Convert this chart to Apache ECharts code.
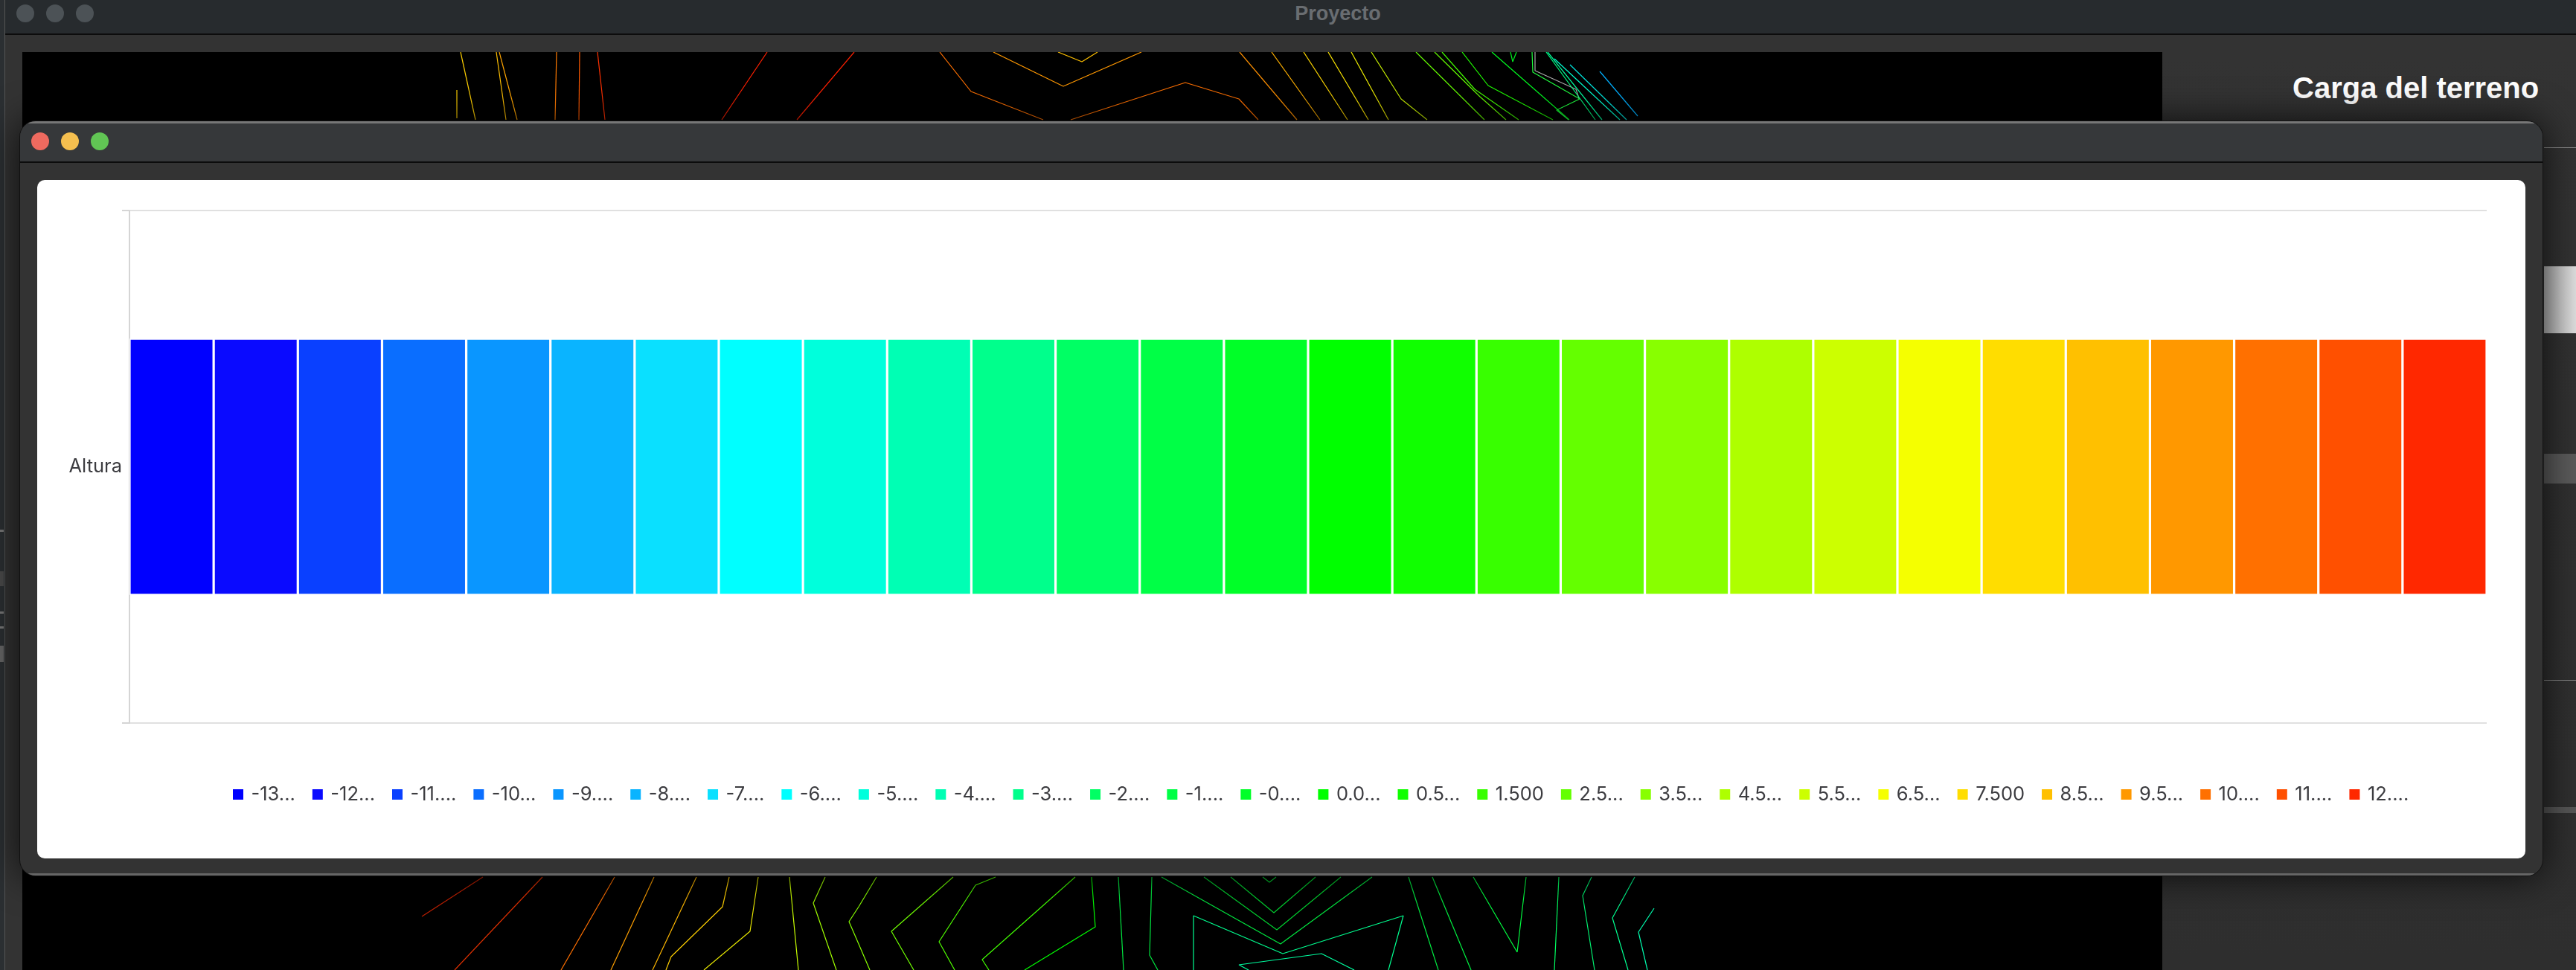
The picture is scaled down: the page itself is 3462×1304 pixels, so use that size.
<!DOCTYPE html>
<html>
<head>
<meta charset="utf-8">
<title>Carga del terreno</title>
<script src="https://cdn.jsdelivr.net/npm/echarts@6/dist/echarts.min.js"></script>
<style>
html, body { margin: 0; width: 3462px; height: 1304px; overflow: hidden; background: #2b2f32; }
div { position: absolute; box-sizing: border-box; }
.dot { width: 24px; height: 24px; border-radius: 50%; }
#mainWin { left: 6px; top: 0; width: 3456px; height: 1304px; background: #333; border-left: 1px solid #555; }
#mainBar { left: 0; top: 0; width: 100%; height: 47px; background: #272b2e; border-bottom: 2px solid #0c0c0c; }
#mainTitle { left: 1798px; top: 0; height: 37px; transform: translateX(-50%); color: #696d71; font: bold 27px/37px "Liberation Sans"; white-space: nowrap; }
#sidebar { left: 2906px; top: 70px; width: 556px; height: 1234px; background: linear-gradient(#333, #2e2e2e); }
#sideTitle { left: 3081px; top: 96px; color: #fff; font: bold 40px/44px "Liberation Sans"; white-space: nowrap; }
#contours { left: 30px; top: 70px; width: 2876px; height: 1234px; background: #000; }
#popup { left: 26px; top: 162px; width: 3392px; height: 1016px; background: #333; border-radius: 22px; border: 1px solid #111; box-shadow: 0 0 50px rgba(0,0,0,.75); overflow: hidden; }
#popupBar { left: 0; top: 0; width: 100%; height: 56px; background: #36383a; border-top: 3px solid #777; border-bottom: 2px solid #0c0c0c; }
#popupEdge { left: 0; bottom: 0; width: 100%; height: 3px; background: #666; }
#panel { left: 50px; top: 242px; width: 3344px; height: 912px; background: #fff; border-radius: 10px; overflow: hidden; }
#chart { left: 0; top: 0; width: 3344px; height: 912px; }
</style>
</head>
<body>
<div id="mainWin"><div id="mainBar"></div></div>
<div id="mainTitle">Proyecto</div>
<div class="dot" style="left:22px;top:6px;background:#4c5256"></div>
<div class="dot" style="left:62px;top:6px;background:#4c5256"></div>
<div class="dot" style="left:102px;top:6px;background:#4c5256"></div>
<div id="contours"></div>
<div id="sidebar"></div>
<div id="sideTitle">Carga del terreno</div>
<div style="left:3419px;top:198px;width:43px;height:1px;background:#8a8a8a"></div>
<div style="left:3419px;top:358px;width:43px;height:90px;background:linear-gradient(90deg,#b0b0b0,#dedede)"></div>
<div style="left:3419px;top:610px;width:43px;height:40px;background:#5a5a5a"></div>
<div style="left:3419px;top:914px;width:43px;height:1px;background:#8a8a8a"></div>
<div style="left:3419px;top:1085px;width:43px;height:8px;background:#555"></div>
<div style="left:0;top:712px;width:5px;height:3px;background:#777"></div>
<div style="left:0;top:768px;width:5px;height:20px;background:#4a4a4a"></div>
<div style="left:0;top:822px;width:5px;height:3px;background:#777"></div>
<div style="left:0;top:842px;width:5px;height:3px;background:#777"></div>
<div style="left:0;top:868px;width:5px;height:22px;background:#666"></div>
<div id="popup">
  <div id="popupBar"></div>
  <div id="popupEdge"></div>
  <div class="dot" style="left:15px;top:15px;background:#ee6a5f"></div>
  <div class="dot" style="left:55px;top:15px;background:#f5bf4f"></div>
  <div class="dot" style="left:95px;top:15px;background:#61c554"></div>
</div>
<div id="panel"><div id="chart"></div></div>
<script>
// datos de la leyenda y de las bandas
var categories = ['Altura'];
var legendNames = ['-13...', '-12...', '-11....', '-10...', '-9....', '-8....', '-7....', '-6....', '-5....', '-4....',
    '-3....', '-2....', '-1....', '-0....', '0.0...', '0.5...', '1.500', '2.5...', '3.5...', '4.5...',
    '5.5...', '6.5...', '7.500', '8.5...', '9.5...', '10....', '11....', '12....'];
var bandValues = [1, 1, 1, 1, 1, 1, 1, 1, 1, 1, 1, 1, 1, 1, 1, 1, 1, 1, 1, 1, 1, 1, 1, 1, 1, 1, 1, 1];
var bandColors = ['#0000ff', '#0a0aff', '#0a40ff', '#0a6eff', '#0a96ff', '#0ab4ff', '#0ae0ff', '#00ffff', '#00ffdc', '#00ffb4',
    '#00ff8c', '#00ff64', '#00ff46', '#00ff28', '#00ff00', '#10ff00', '#38ff00', '#64ff00', '#88ff00', '#aeff00',
    '#ccff00', '#f5ff00', '#ffdd00', '#ffc000', '#ff9800', '#ff7000', '#ff5000', '#ff2800'];

// curvas de nivel del fondo, [x, y]
var contourLines = [
    [[619, 70], [639, 161]], [[614, 121], [614, 159]], [[667, 70], [680, 161]], [[671, 70], [695, 161]],
    [[748, 70], [746, 161]], [[779, 70], [778, 161]], [[803, 70], [813, 161]], [[1031, 70], [970, 161]],
    [[1148, 70], [1071, 161]], [[1263, 70], [1305, 123], [1402, 161]], [[1335, 70], [1429, 116], [1534, 70]],
    [[1422, 70], [1454, 83], [1475, 70]], [[1439, 161], [1593, 111], [1665, 133], [1691, 161]], [[1666, 70], [1743, 161]],
    [[1709, 70], [1774, 161]], [[1752, 70], [1811, 161]], [[1785, 70], [1839, 161]], [[1816, 70], [1866, 161]],
    [[1843, 70], [1883, 133], [1918, 161]], [[1903, 70], [1995, 161]], [[1928, 70], [1989, 130], [2024, 161]],
    [[1938, 70], [1982, 120], [2041, 161]], [[1965, 70], [2000, 115], [2087, 161]], [[2005, 70], [2109, 161]],
    [[2030, 70], [2033, 83], [2038, 70]], [[2059, 70], [2060, 97], [2123, 133], [2092, 148], [2108, 161]],
    [[2063, 70], [2063, 95], [2118, 120], [2122, 132]], [[2078, 70], [2144, 161]], [[2080, 70], [2153, 161]],
    [[2089, 79], [2177, 161]], [[2110, 87], [2186, 161]], [[2150, 96], [2201, 156]],
    [[649, 1179], [567, 1232]], [[729, 1179], [611, 1304]], [[826, 1179], [754, 1304]], [[879, 1179], [821, 1304]],
    [[936, 1179], [877, 1304]], [[980, 1179], [971, 1219], [902, 1286], [895, 1304]], [[1019, 1179], [1008, 1252], [946, 1304]],
    [[1061, 1179], [1073, 1304]], [[1109, 1179], [1093, 1214], [1124, 1304]], [[1178, 1179], [1154, 1219], [1141, 1239], [1154, 1269], [1169, 1304]],
    [[1281, 1179], [1198, 1252], [1228, 1304]], [[1338, 1179], [1311, 1190], [1262, 1266], [1283, 1304]], [[1445, 1179], [1320, 1290], [1329, 1304]],
    [[1467, 1179], [1472, 1246], [1377, 1304]], [[1503, 1179], [1510, 1304]], [[1548, 1179], [1545, 1284], [1556, 1304]],
    [[1561, 1179], [1721, 1269], [1844, 1179]], [[1618, 1179], [1716, 1250], [1802, 1179]], [[1654, 1179], [1712, 1227], [1768, 1179]],
    [[1697, 1179], [1706, 1186], [1715, 1179]], [[1604, 1304], [1604, 1231], [1724, 1282], [1886, 1231], [1866, 1304]],
    [[1678, 1304], [1665, 1297], [1776, 1282], [1820, 1304]], [[1893, 1179], [1933, 1304]], [[1925, 1179], [1977, 1304]],
    [[1980, 1179], [2039, 1280], [2051, 1179]], [[2095, 1179], [2089, 1304]], [[2139, 1179], [2127, 1204], [2143, 1304]],
    [[2197, 1179], [2167, 1234], [2188, 1304]], [[2223, 1221], [2202, 1253], [2214, 1304]]
];
var contourColors = ['#ffd000', '#ffd000', '#ffc000', '#ffa500', '#ff7a00', '#ff5a00', '#ff3000', '#ff2000', '#ff2000', '#ff7000', '#ff9800',
    '#ffc000', '#ff7000', '#ff9000', '#ffb000', '#ffd800', '#ffe800', '#f0f000', '#c8f000', '#66ff00', '#66ff00',
    '#44ff00', '#20ff00', '#00ff20', '#00f020', '#20ff40', '#aaaaaa', '#00ff80', '#00ffa0', '#00ffd0', '#00e8e0', '#00b0ff',
    '#c02000', '#e03000', '#ff7000', '#ffa000', '#ffb800', '#ffd000', '#e8e800', '#c8ff00', '#a0ff00', '#88ff00',
    '#70ff00', '#50ff00', '#40ff00', '#00ff00', '#00e840', '#00e840', '#00e840', '#00d030', '#00d030',
    '#00d030', '#00ff90', '#00ffa0', '#00e840', '#00f040', '#00ff40', '#00ff60', '#00f070', '#00ff90', '#00ffb0'];

var bg = echarts.init(document.getElementById('contours'));
bg.setOption({
    animation: false,
    grid: { left: 0, right: 0, top: 0, bottom: 0 },
    xAxis: { type: 'value', min: 30, max: 2906, show: false },
    yAxis: { type: 'value', min: 70, max: 1304, inverse: true, show: false },
    series: contourLines.map(function (line, i) {
        return {
            type: 'line',
            data: line,
            symbol: 'none',
            silent: true,
            lineStyle: { width: 1.2, color: contourColors[i] }
        };
    })
});

var myChart = echarts.init(document.getElementById('chart'));
myChart.setOption({
    animation: false,
    legend: {
        data: legendNames,
        left: 258,
        top: 808,
        itemWidth: 14,
        itemHeight: 14,
        itemGap: 23,
        icon: 'rect',
        itemStyle: { borderWidth: 0 },
        textStyle: { color: '#3c3c40', fontSize: 25.5, fontFamily: 'Inter', padding: [0, 0, 0, 5.5] }
    },
    grid: { left: 124, right: 52, top: 41, bottom: 182 },
    xAxis: { type: 'value', min: 0, max: 28, show: false },
    yAxis: {
        type: 'category',
        data: categories,
        axisLine: { lineStyle: { color: '#d5d5d5', width: 2 } },
        axisTick: { show: true, interval: 0, length: 10, lineStyle: { color: '#d5d5d5', width: 2 } },
        axisLabel: { color: '#3c3c40', fontSize: 25.5, fontFamily: 'Inter', margin: 10 },
        splitLine: { show: true, showMinLine: true, showMaxLine: true, lineStyle: { color: '#e0e0e0', width: 2 } }
    },
    series: legendNames.map(function (name, i) {
        return {
            name: name,
            type: 'bar',
            stack: 'altura',
            barWidth: '50%',
            data: [bandValues[i]],
            itemStyle: { color: bandColors[i], borderColor: '#fff', borderWidth: 1.6 }
        };
    })
});
</script>
</body>
</html>
